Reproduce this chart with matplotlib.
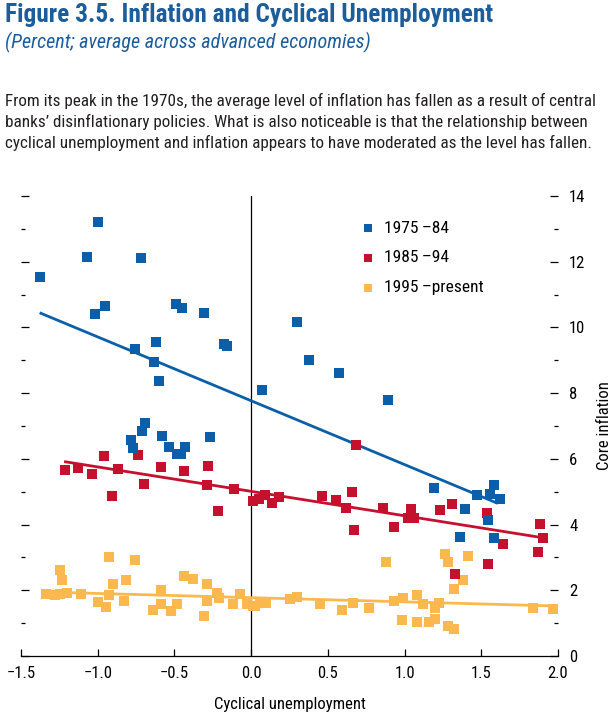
import numpy as np
import matplotlib
matplotlib.use("Agg")
import matplotlib.pyplot as plt
from matplotlib.ticker import MultipleLocator

plt.rcParams['font.family'] = ['Roboto Condensed', 'DejaVu Sans']

blue_x = [-1.375, -1.0, -1.07, -0.72, -1.02, -0.95, -0.49, -0.45, -0.31, -0.175, -0.155,
          -0.62, -0.76, -0.63, -0.60, 0.07, 0.30, 0.38, 0.57, 0.89, -0.69, -0.71, -0.78,
          -0.77, -0.58, -0.535, -0.48, -0.455, -0.43, -0.27, 1.19, 1.47, 1.58, 1.56, 1.62,
          1.395, 1.545, 1.36, 1.58]
blue_y = [11.52, 13.2, 12.13, 12.1, 10.4, 10.64, 10.7, 10.6, 10.43, 9.5, 9.42,
          9.57, 9.33, 8.96, 8.38, 8.1, 10.18, 9.0, 8.6, 7.78, 7.1, 6.86, 6.58,
          6.34, 6.7, 6.35, 6.15, 6.15, 6.37, 6.68, 5.12, 4.9, 5.2, 4.94, 4.79,
          4.48, 4.15, 3.63, 3.6]

red_x = [-1.21, -1.13, -1.04, -0.96, -0.87, -0.91, -0.74, -0.70, -0.59, -0.44, -0.28,
         -0.29, -0.11, -0.215, 0.01, 0.05, 0.09, 0.135, 0.18, 0.46, 0.55, 0.62, 0.66,
         0.67, 0.685, 0.86, 0.93, 1.04, 1.02, 1.06, 1.23, 1.31, 1.33, 1.54, 1.545,
         1.64, 1.88, 1.90, 1.87]
red_y = [5.67, 5.73, 5.55, 6.1, 5.7, 4.88, 6.13, 5.24, 5.76, 5.64, 5.79,
         5.21, 5.09, 4.4, 4.73, 4.79, 4.9, 4.67, 4.85, 4.88, 4.76, 4.51, 4.98,
         3.84, 6.43, 4.51, 3.94, 4.48, 4.21, 4.21, 4.45, 4.63, 2.5, 4.36, 2.8,
         3.41, 4.02, 3.6, 3.17]

yel_x = [-1.34, -1.28, -1.245, -1.23, -1.245, -1.20, -1.11, -1.0, -0.945, -0.925, -0.9,
         -0.925, -0.815, -0.755, -0.83, -0.64, -0.59, -0.59, -0.52, -0.48, -0.44, -0.38,
         -0.29, -0.29, -0.31, -0.22, -0.21, -0.12, -0.07, -0.03, 0.01, 0.026, 0.06, 0.10,
         0.25, 0.30, 0.45, 0.59, 0.665, 0.77, 0.88, 0.93, 0.99, 0.985, 1.08, 1.08, 1.12,
         1.16, 1.2, 1.2, 1.225, 1.265, 1.28, 1.28, 1.32, 1.32, 1.38, 1.415, 1.84, 1.97]
yel_y = [1.89, 1.86, 2.62, 2.32, 1.89, 1.92, 1.89, 1.65, 1.5, 3.0, 2.2,
         1.86, 2.32, 2.93, 1.68, 1.4, 2.01, 1.58, 1.37, 1.58, 2.44, 2.35,
         2.2, 1.68, 1.22, 1.92, 1.77, 1.58, 1.89, 1.58, 1.52, 1.52, 1.62, 1.62,
         1.74, 1.8, 1.58, 1.4, 1.62, 1.46, 2.87, 1.68, 1.77, 1.1, 1.86, 1.04, 1.58,
         1.04, 1.13, 1.46, 1.62, 3.11, 2.87, 0.91, 0.82, 2.04, 2.32, 3.05, 1.46, 1.43]

# fitted lines as drawn in the original (end points)
blue_fit_x, blue_fit_y = [-1.37, 1.6], [10.43, 4.66]
red_fit_x, red_fit_y = [-1.21, 1.90], [5.91, 3.6]
yel_fit_x, yel_fit_y = [-1.36, 2.0], [1.95, 1.52]

labels = ['1975\u2009\u201384', '1985\u2009\u201394', '1995\u2009\u2013present']
xtick_vals = [-1.5, -1.0, -0.5, 0.0, 0.5, 1.0, 1.5, 2.0]
xtick_labels = ['\u22121.5', '\u22121.0', '\u22120.5', '0.0', '0.5', '1.0', '1.5', '2.0']

c_blue = '#0b5ea9'
c_red = '#c5102e'
c_yel = '#fbb84f'
title_col = '#1c5d9c'

fig = plt.figure(figsize=(6.14, 7.18), dpi=100)

fig.text(0.008, 0.979, 'Figure 3.5. Inflation and Cyclical Unemployment', fontsize=18.3,
         fontweight='bold', color=title_col, va='center')
fig.text(0.008, 0.941, '(Percent; average across advanced economies)', fontsize=14.5,
         style='italic', color=title_col, va='center')
para = ("From its peak in the 1970s, the average level of inflation has fallen as a result of central\n"
        "banks\u2019 disinflationary policies. What is also noticeable is that the relationship between\n"
        "cyclical unemployment and inflation appears to have moderated as the level has fallen.")
fig.text(0.008, 0.870, para, fontsize=12.3, color='#231f20', va='top', linespacing=1.36)

ax = fig.add_axes([21/614, (718-656)/718, (558-21)/614, (656-196)/718])
ax.set_xlim(-1.5, 2.0)
ax.set_ylim(0, 14)

ax.plot(yel_fit_x, yel_fit_y, color=c_yel, lw=2, zorder=2)
ax.plot(red_fit_x, red_fit_y, color=c_red, lw=2, zorder=2)
ax.plot(blue_fit_x, blue_fit_y, color=c_blue, lw=2, zorder=2)
ax.scatter(yel_x, yel_y, marker='s', s=58, color=c_yel, lw=0, zorder=3, label=labels[2])
ax.scatter(red_x, red_y, marker='s', s=58, color=c_red, lw=0, zorder=4, label=labels[1])
ax.scatter(blue_x, blue_y, marker='s', s=58, color=c_blue, lw=0, zorder=5, label=labels[0])
ax.axvline(0, color='black', lw=0.9, zorder=1)

for s in ['top', 'left', 'right']:
    ax.spines[s].set_visible(False)
ax.spines['bottom'].set_linewidth(0.9)

ax.set_xticks(xtick_vals)
ax.set_xticklabels(xtick_labels)
ax.tick_params(axis='x', direction='in', length=5, width=0.9, labelsize=12, pad=7)

ax.yaxis.set_major_locator(MultipleLocator(2))
ax.yaxis.set_minor_locator(MultipleLocator(1))
ax.tick_params(axis='y', which='both', direction='in', left=True, right=True,
               labelleft=False, labelright=True, labelsize=12, pad=8, width=0.9)
ax.tick_params(axis='y', which='major', length=6)
ax.tick_params(axis='y', which='minor', length=3)

ax.set_xlabel('Cyclical unemployment', fontsize=12, labelpad=12)
ax.yaxis.set_label_position('right')
ax.set_ylabel('Core inflation', fontsize=12, labelpad=8)

h, l = ax.get_legend_handles_labels()
ax.legend(h[::-1], l[::-1], loc='upper left', bbox_to_anchor=(0.617, 0.962), frameon=False,
          fontsize=12.5, handlelength=1.0, handletextpad=0.4, labelspacing=0.85,
          scatterpoints=1, borderaxespad=0, markerscale=0.8)

fig.savefig('out.png', dpi=100)
